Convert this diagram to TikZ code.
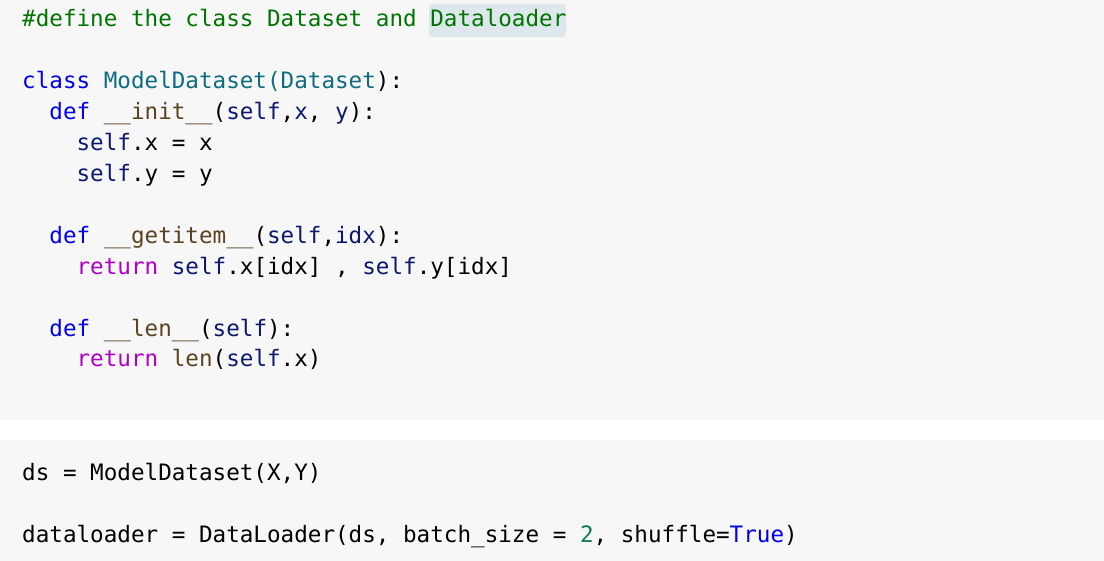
\documentclass[tikz,border=0pt]{standalone}
\usepackage{fontspec}
\setmonofont{DejaVu Sans Mono}
\definecolor{bg}{HTML}{F7F7F7}
\definecolor{cm}{HTML}{007400}
\definecolor{kw}{HTML}{0000F0}
\definecolor{cls}{HTML}{0F6C7E}
\definecolor{fn}{HTML}{5C4320}
\definecolor{slf}{HTML}{0B1A6E}
\definecolor{ret}{HTML}{B000C8}
\definecolor{num}{HTML}{117A50}
\definecolor{hl}{HTML}{DEE7EC}
\newcommand{\K}[1]{\textcolor{kw}{#1}}
\newcommand{\C}[1]{\textcolor{cls}{#1}}
\newcommand{\F}[1]{\textcolor{fn}{#1}}
\newcommand{\Sx}[1]{\textcolor{slf}{#1}}
\newcommand{\R}[1]{\textcolor{ret}{#1}}
\begin{document}
\begin{tikzpicture}[x=1pt,y=-1pt,
  code/.style={anchor=base west,inner sep=0pt,font=\ttfamily\fontsize{22.6}{26}\selectfont,text=black}]
\useasboundingbox (0,0) rectangle (1104,561);
\fill[bg] (0,0) rectangle (1104,420);
\fill[bg] (0,440) rectangle (1104,561);
\fill[hl,rounded corners=3pt] (429,4) rectangle (566,37);
\node[code] (l1) at (22,27) {\textcolor{cm}{\#define the class Dataset and Dataloader}};
\node[code] (l2) at (22,89) {\K{class} \C{ModelDataset(Dataset}):};
\node[code] (l3) at (22,120) {\ \ \K{def} \F{\_\_init\_\_}(\Sx{self},\Sx{x}, \Sx{y}):};
\node[code] (l4) at (22,151) {\ \ \ \ \Sx{self}.x = x};
\node[code] (l5) at (22,182) {\ \ \ \ \Sx{self}.y = y};
\node[code] (l6) at (22,244) {\ \ \K{def} \F{\_\_getitem\_\_}(\Sx{self},\Sx{idx}):};
\node[code] (l7) at (22,275) {\ \ \ \ \R{return} \Sx{self}.x[idx] , \Sx{self}.y[idx]};
\node[code] (l8) at (22,337) {\ \ \K{def} \F{\_\_len\_\_}(\Sx{self}):};
\node[code] (l9) at (22,367) {\ \ \ \ \R{return} \F{len}(\Sx{self}.x)};
\node[code] (m1) at (22,480) {ds = ModelDataset(X,Y)};
\node[code] (m2) at (22,542) {dataloader = DataLoader(ds, batch\_size = \textcolor{num}{2}, shuffle=\K{True})};
\end{tikzpicture}
\end{document}
